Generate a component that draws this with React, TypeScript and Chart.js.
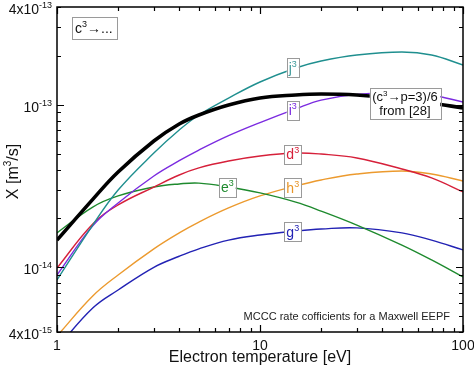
import React, { useEffect, useRef } from "react";
import { Chart, registerables } from "chart.js";

Chart.register(...registerables);

// Electron temperature [eV]
const temperatures = [1, 1.5, 2, 3, 4, 5, 7, 10, 15, 20, 30, 50, 70, 100];
const unit = 1e-14; // values below are in units of 1e-14 m^3/s
const refC3p3 = [1.47, 2.62, 3.86, 5.99, 7.62, 8.66, 9.98, 11.02, 11.5, 11.66, 11.5, 10.86, 10.26, 9.56];
const j3 = [0.836, 1.82, 2.99, 5.05, 7.0, 8.66, 11.0, 13.82, 16.86, 18.61, 20.26, 21.14, 20.26, 17.59];
const i3 = [0.897, 1.8, 2.49, 3.65, 4.53, 5.27, 6.46, 7.78, 9.45, 10.7, 11.6, 11.9, 11.5, 10.4];
const d3 = [0.99, 1.85, 2.42, 3.12, 3.7, 4.09, 4.51, 4.84, 5.05, 4.98, 4.71, 4.03, 3.55, 2.91];
const e3 = [1.63, 2.35, 2.75, 3.12, 3.26, 3.3, 3.12, 2.87, 2.52, 2.22, 1.82, 1.37, 1.11, 0.872];
const h3 = [0.378, 0.666, 0.897, 1.3, 1.63, 1.9, 2.32, 2.75, 3.17, 3.45, 3.75, 3.92, 3.75, 3.4];
const g3 = [0.319, 0.562, 0.725, 1.0, 1.17, 1.3, 1.47, 1.58, 1.67, 1.72, 1.75, 1.63, 1.47, 1.28];

const xRange = [1, 100];
const yRange = [4e-15, 4e-13];
const xTickValues = [1, 10, 100];
const xTickTexts = ["1", "10", "100"];
const yTickValues = [4e-13, 1e-13, 1e-14, 4e-15];
const yTickMantissas = ["4x10", "10", "10", "4x10"];
const yTickExponents = ["-13", "-13", "-14", "-15"];

// curve labels: letter, anchor temperature, anchor value (1e-14)
const labelLetters = ["j", "i", "d", "h", "g", "e"];
const labelT = [14.5, 14.5, 14.5, 14.5, 14.5, 6.9];
const labelV = [16.9, 9.29, 4.98, 3.08, 1.65, 3.12];
const refLabelT = 51.8;
const refLabelV = 10.26;

const FONT = "'Liberation Sans', Arial, Helvetica, sans-serif";

type Part = { t: string; sup?: boolean };

function richWidth(ctx: CanvasRenderingContext2D, parts: Part[], size: number) {
  let w = 0;
  for (const p of parts) {
    ctx.font = `${p.sup ? Math.round(size * 0.65) : size}px ${FONT}`;
    w += ctx.measureText(p.t).width;
  }
  return w;
}

function drawRich(
  ctx: CanvasRenderingContext2D,
  parts: Part[],
  x: number,
  baseline: number,
  size: number,
  align: "left" | "center" | "right",
  color: string
) {
  const w = richWidth(ctx, parts, size);
  let cx = align === "left" ? x : align === "center" ? x - w / 2 : x - w;
  ctx.fillStyle = color;
  ctx.textAlign = "left";
  ctx.textBaseline = "alphabetic";
  for (const p of parts) {
    const s = p.sup ? Math.round(size * 0.65) : size;
    ctx.font = `${s}px ${FONT}`;
    ctx.fillText(p.t, cx, p.sup ? baseline - size * 0.42 : baseline);
    cx += ctx.measureText(p.t).width;
  }
  return w;
}

const seriesStyles = [
  { color: "#000000", width: 3.6 },
  { color: "#1f8f8f", width: 1.4 },
  { color: "#7b2be0", width: 1.4 },
  { color: "#d6203a", width: 1.4 },
  { color: "#1e8a2e", width: 1.4 },
  { color: "#ec9a2e", width: 1.4 },
  { color: "#2222b4", width: 1.4 },
];
const seriesValues = [refC3p3, j3, i3, d3, e3, h3, g3];
const seriesNames = ["(c3→p=3)/6 from [28]", "j3", "i3", "d3", "e3", "h3", "g3"];
const labelColors = ["#3f9a9a", "#7b2be0", "#d6203a", "#e8962a", "#2222b4", "#1e8a2e"];

const overlayPlugin = {
  id: "overlay",
  afterDatasetsDraw(chart: any) {
    const { ctx, chartArea: a, scales } = chart;
    const xs = scales.x;
    const ys = scales.y;
    ctx.save();

    // curve labels
    labelLetters.forEach((l, i) => {
      const px = xs.getPixelForValue(labelT[i]);
      const py = ys.getPixelForValue(labelV[i] * unit);
      const parts = [{ t: l }, { t: "3", sup: true }];
      const w = richWidth(ctx, parts, 14);
      const bw = w + 4;
      const bh = 19;
      ctx.fillStyle = "#ffffff";
      ctx.fillRect(px - bw / 2, py - bh / 2, bw, bh);
      ctx.strokeStyle = "#9a9a9a";
      ctx.lineWidth = 1;
      ctx.strokeRect(Math.round(px - bw / 2) + 0.5, Math.round(py - bh / 2) + 0.5, Math.round(bw), bh);
      drawRich(ctx, parts, px, py + 5, 14, "center", labelColors[i]);
    });

    // reference label box
    {
      const px = xs.getPixelForValue(refLabelT);
      const py = ys.getPixelForValue(refLabelV * unit);
      const l1: Part[] = [{ t: "(c" }, { t: "3", sup: true }, { t: "→p=3)/6" }];
      const l2: Part[] = [{ t: "from [28]" }];
      const w = Math.max(richWidth(ctx, l1, 13), richWidth(ctx, l2, 13));
      const bw = w + 5;
      const bh = 31;
      ctx.fillStyle = "#ffffff";
      ctx.fillRect(px - bw / 2, py - bh / 2, bw, bh);
      ctx.strokeStyle = "#9a9a9a";
      ctx.lineWidth = 1;
      ctx.strokeRect(Math.round(px - bw / 2) + 0.5, Math.round(py - bh / 2) + 0.5, Math.round(bw), bh);
      drawRich(ctx, l1, px, py - 2, 13, "center", "#111");
      drawRich(ctx, l2, px, py + 12, 13, "center", "#111");
    }

    // title box c3->...
    {
      const bx = a.left + 15;
      const by = a.top + 10;
      ctx.fillStyle = "#ffffff";
      ctx.fillRect(bx, by, 45, 22);
      ctx.strokeStyle = "#9a9a9a";
      ctx.lineWidth = 1;
      ctx.strokeRect(bx + 0.5, by + 0.5, 45, 22);
      drawRich(ctx, [{ t: "c" }, { t: "3", sup: true }, { t: "→..." }], bx + 3, by + 16, 14, "left", "#111");
    }

    // note text
    ctx.font = `11px ${FONT}`;
    ctx.fillStyle = "#222";
    ctx.textAlign = "right";
    ctx.textBaseline = "alphabetic";
    ctx.fillText("MCCC rate cofficients for a Maxwell EEPF", a.right - 13, a.bottom - 12);

    // frame
    ctx.strokeStyle = "#000";
    ctx.lineWidth = 1.5;
    ctx.strokeRect(a.left, a.top, a.right - a.left, a.bottom - a.top);

    // ticks (inward, all four sides)
    ctx.lineWidth = 1.2;
    const isPow10 = (v: number) => Math.abs(Math.log10(v) - Math.round(Math.log10(v))) < 1e-6;
    const logTicks = (min: number, max: number) => {
      const out: number[] = [];
      for (let e = Math.floor(Math.log10(min)); e <= Math.ceil(Math.log10(max)); e++) {
        for (let m = 1; m <= 9; m++) {
          const v = m * Math.pow(10, e);
          if (v >= min * 0.9999 && v <= max * 1.0001) out.push(v);
        }
      }
      return out;
    };
    ctx.beginPath();
    for (const v of logTicks(xRange[0], xRange[1])) {
      const px = Math.round(xs.getPixelForValue(v)) + 0.5;
      const len = isPow10(v) ? 7 : 4;
      ctx.moveTo(px, a.bottom);
      ctx.lineTo(px, a.bottom - len);
      ctx.moveTo(px, a.top);
      ctx.lineTo(px, a.top + len);
    }
    for (const v of logTicks(yRange[0], yRange[1])) {
      const py = Math.round(ys.getPixelForValue(v)) + 0.5;
      const len = isPow10(v) ? 7 : 4;
      ctx.moveTo(a.left, py);
      ctx.lineTo(a.left + len, py);
      ctx.moveTo(a.right, py);
      ctx.lineTo(a.right - len, py);
    }
    ctx.stroke();

    // tick labels
    xTickValues.forEach((v, i) => {
      const px = xs.getPixelForValue(v);
      ctx.font = `14px ${FONT}`;
      ctx.fillStyle = "#111";
      ctx.textAlign = "center";
      ctx.textBaseline = "middle";
      ctx.fillText(xTickTexts[i], px, a.bottom + 14);
    });
    yTickValues.forEach((v, i) => {
      const py = ys.getPixelForValue(v);
      drawRich(
        ctx,
        [{ t: yTickMantissas[i] }, { t: yTickExponents[i], sup: true }],
        a.left - 5,
        py + 7,
        14,
        "right",
        "#111"
      );
    });

    // axis titles
    ctx.font = `16px ${FONT}`;
    ctx.fillStyle = "#111";
    ctx.textAlign = "center";
    ctx.textBaseline = "middle";
    ctx.fillText("Electron temperature [eV]", (a.left + a.right) / 2, a.bottom + 26);

    ctx.save();
    ctx.translate(12, (a.top + a.bottom) / 2 + 2);
    ctx.rotate(-Math.PI / 2);
    drawRich(ctx, [{ t: "X [m" }, { t: "3", sup: true }, { t: "/s]" }], 0, 6, 16, "center", "#111");
    ctx.restore();

    ctx.restore();
  },
};

export default function App() {
  const ref = useRef<HTMLCanvasElement | null>(null);
  useEffect(() => {
    document.body.style.margin = "0";
    const canvas = ref.current;
    if (!canvas) return;
    const chart = new Chart(canvas, {
      type: "line",
      data: {
        datasets: seriesValues.map((vals, k) => ({
          label: seriesNames[k],
          data: temperatures.map((t, i) => ({ x: t, y: vals[i] * unit })),
          borderColor: seriesStyles[k].color,
          borderWidth: seriesStyles[k].width,
          pointRadius: 0,
          fill: false,
          tension: 0.4,
        })),
      },
      options: {
        responsive: false,
        animation: false,
        devicePixelRatio: 1,
        events: [],
        layout: { padding: { left: 57, right: 11, top: 7, bottom: 41 } },
        plugins: { legend: { display: false }, tooltip: { enabled: false } },
        scales: {
          x: { type: "logarithmic", min: xRange[0], max: xRange[1], display: false },
          y: { type: "logarithmic", min: yRange[0], max: yRange[1], display: false },
        },
      },
      plugins: [overlayPlugin],
    });
    return () => chart.destroy();
  }, []);
  return (
    <div style={{ width: 474, height: 373, background: "#fff" }}>
      <canvas ref={ref} width={474} height={373} style={{ display: "block" }} />
    </div>
  );
}
